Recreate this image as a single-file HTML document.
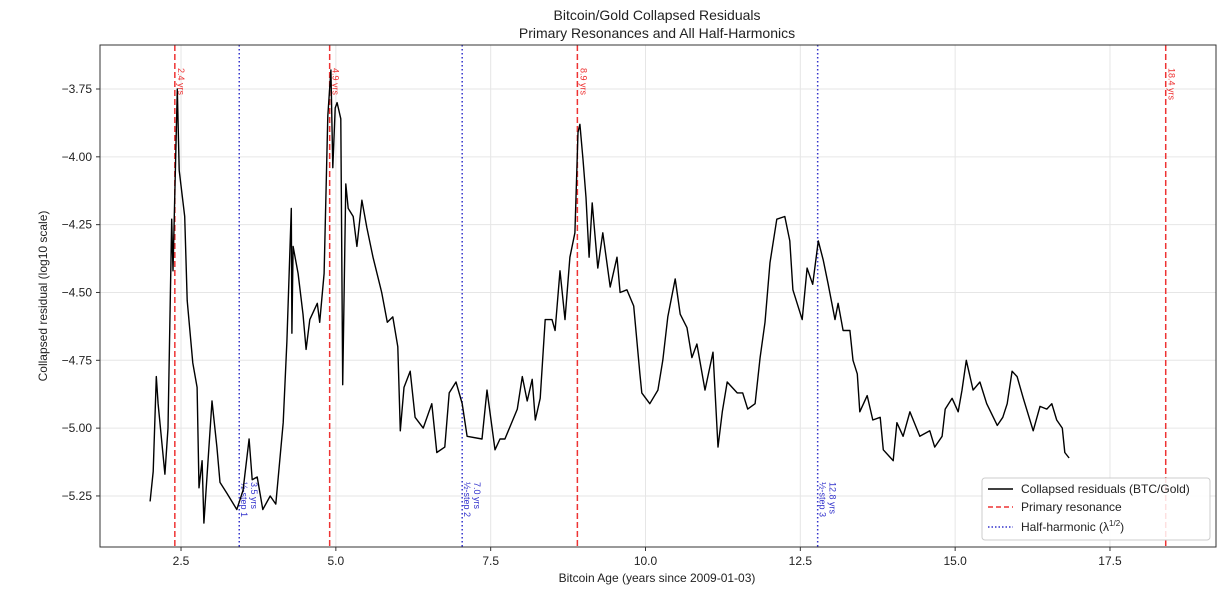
<!DOCTYPE html>
<html><head><meta charset="utf-8"><style>
body{margin:0;background:#fff;}
svg{display:block;font-family:"Liberation Sans","DejaVu Sans",sans-serif;}
</style></head><body>
<svg id="chart" width="1230" height="592" viewBox="0 0 1230 592">
<text x="657" y="20" text-anchor="middle" font-size="14" fill="#222">Bitcoin/Gold Collapsed Residuals</text>
<text x="657" y="38" text-anchor="middle" font-size="14" fill="#222">Primary Resonances and All Half-Harmonics</text>
<g id="grid"></g>
<g id="vlines"></g>
<path id="series" fill="none" stroke="#000" stroke-width="1.4" stroke-linejoin="round"/>
<rect x="100" y="45" width="1116" height="502" fill="none" stroke="#333" stroke-width="1"/>
<g id="ticks"></g>
<text x="657" y="582" text-anchor="middle" font-size="12" fill="#222">Bitcoin Age (years since 2009-01-03)</text>
<text transform="translate(47,296) rotate(-90)" text-anchor="middle" font-size="12" fill="#222">Collapsed residual (log10 scale)</text>
<g>
<rect x="982" y="478" width="228" height="62" rx="3" fill="#fff" fill-opacity="0.85" stroke="#ccc"/>
<line x1="988" y1="489" x2="1013" y2="489" stroke="#000" stroke-width="1.4"/>
<text x="1021" y="493" font-size="12" fill="#222">Collapsed residuals (BTC/Gold)</text>
<line x1="988" y1="507" x2="1013" y2="507" stroke="#e33" stroke-width="1.4" stroke-dasharray="5,3"/>
<text x="1021" y="511" font-size="12" fill="#222">Primary resonance</text>
<line x1="988" y1="527" x2="1013" y2="527" stroke="#33c" stroke-width="1.4" stroke-dasharray="1.5,2"/>
<text x="1021" y="531" font-size="12" fill="#222">Half-harmonic (λ<tspan font-size="8" dy="-5">1/2</tspan><tspan dy="5">)</tspan></text>
</g>
</svg>
<script>
const xs=[2.00,2.05,2.10,2.13,2.24,2.29,2.35,2.37,2.44,2.47,2.56,2.60,2.69,2.76,2.79,2.84,2.87,3.00,3.08,3.13,3.24,3.40,3.50,3.60,3.65,3.73,3.82,3.94,4.03,4.15,4.21,4.28,4.29,4.31,4.39,4.47,4.52,4.58,4.70,4.74,4.81,4.87,4.92,4.95,4.99,5.02,5.08,5.11,5.16,5.20,5.28,5.34,5.42,5.50,5.60,5.74,5.83,5.92,6.00,6.04,6.10,6.20,6.28,6.41,6.55,6.63,6.76,6.83,6.94,7.04,7.12,7.36,7.44,7.57,7.65,7.73,7.93,8.01,8.09,8.17,8.22,8.30,8.38,8.49,8.54,8.62,8.70,8.78,8.86,8.91,8.94,8.99,9.04,9.09,9.14,9.23,9.31,9.43,9.54,9.59,9.70,9.81,9.91,9.94,10.07,10.20,10.28,10.36,10.48,10.56,10.67,10.75,10.83,10.96,11.09,11.17,11.24,11.32,11.48,11.57,11.65,11.77,11.85,11.93,12.01,12.12,12.25,12.33,12.38,12.53,12.61,12.70,12.79,12.87,12.95,13.06,13.11,13.19,13.30,13.35,13.42,13.46,13.58,13.67,13.79,13.84,14.00,14.06,14.16,14.27,14.43,14.59,14.67,14.79,14.84,14.95,15.05,15.11,15.18,15.29,15.40,15.51,15.68,15.77,15.84,15.92,16.00,16.10,16.26,16.37,16.48,16.56,16.64,16.73,16.77,16.84];
const ys=[-5.27,-5.16,-4.81,-4.91,-5.17,-5.00,-4.23,-4.42,-3.75,-4.05,-4.22,-4.53,-4.76,-4.85,-5.22,-5.12,-5.35,-4.90,-5.07,-5.20,-5.24,-5.30,-5.23,-5.04,-5.19,-5.18,-5.30,-5.25,-5.28,-4.98,-4.68,-4.19,-4.65,-4.33,-4.43,-4.58,-4.71,-4.60,-4.54,-4.61,-4.43,-3.85,-3.68,-4.04,-3.82,-3.80,-3.86,-4.84,-4.10,-4.19,-4.22,-4.33,-4.16,-4.26,-4.37,-4.50,-4.61,-4.59,-4.70,-5.01,-4.85,-4.79,-4.96,-5.00,-4.91,-5.09,-5.07,-4.87,-4.83,-4.91,-5.03,-5.04,-4.86,-5.08,-5.04,-5.04,-4.93,-4.81,-4.90,-4.82,-4.97,-4.89,-4.60,-4.60,-4.64,-4.42,-4.60,-4.37,-4.28,-3.91,-3.88,-4.01,-4.15,-4.37,-4.17,-4.41,-4.28,-4.48,-4.37,-4.50,-4.49,-4.55,-4.80,-4.87,-4.91,-4.86,-4.75,-4.59,-4.45,-4.58,-4.63,-4.74,-4.69,-4.86,-4.72,-5.07,-4.94,-4.83,-4.87,-4.87,-4.93,-4.91,-4.74,-4.61,-4.39,-4.23,-4.22,-4.31,-4.49,-4.60,-4.41,-4.47,-4.31,-4.38,-4.47,-4.60,-4.54,-4.64,-4.64,-4.75,-4.80,-4.94,-4.88,-4.97,-4.96,-5.08,-5.12,-4.98,-5.03,-4.94,-5.03,-5.01,-5.07,-5.03,-4.93,-4.89,-4.94,-4.86,-4.75,-4.86,-4.83,-4.91,-4.99,-4.96,-4.91,-4.79,-4.81,-4.89,-5.01,-4.92,-4.93,-4.91,-4.97,-5.00,-5.09,-5.11];
const xTicks=[2.5,5.0,7.5,10.0,12.5,15.0,17.5];
const xTickLabels=["2.5","5.0","7.5","10.0","12.5","15.0","17.5"];
const yTicks=[-3.75,-4.00,-4.25,-4.50,-4.75,-5.00,-5.25];
const yTickLabels=["−3.75","−4.00","−4.25","−4.50","−4.75","−5.00","−5.25"];
const primaryYears=[2.4,4.9,8.9,18.4];
const primaryLabels=["2.4 yrs","4.9 yrs","8.9 yrs","18.4 yrs"];
const halfYears=[3.44,7.04,12.78];
const halfLabels=["½-step 1","½-step 2","½-step 3"];
const halfYearLabels=["3.5 yrs","7.0 yrs","12.8 yrs"];

const NS="http://www.w3.org/2000/svg";
const X=v=>26.2+v*61.93;
const Y=v=>89+(-3.75-v)*271.3;
function mk(tag,attrs,parent,text){const e=document.createElementNS(NS,tag);for(const k in attrs)e.setAttribute(k,attrs[k]);if(text!==undefined)e.textContent=text;parent.appendChild(e);return e;}
const grid=document.getElementById('grid'),ticks=document.getElementById('ticks'),vl=document.getElementById('vlines');
xTicks.forEach((t,i)=>{
  const g=mk('line',{x1:X(t),x2:X(t),y1:45,y2:547,stroke:'#e6e6e6','stroke-width':1},grid);
  
  
  const tk=mk('line',{x1:X(t),x2:X(t),y1:547,y2:551,stroke:'#333'},ticks);
  
  
  const tl=mk('text',{x:X(t),y:565,'text-anchor':'middle','font-size':12,fill:'#222'},ticks,xTickLabels[i]);
  
  
});
yTicks.forEach((t,i)=>{
  const g=mk('line',{x1:100,x2:1216,y1:Y(t),y2:Y(t),stroke:'#e6e6e6','stroke-width':1},grid);
  
  
  const tk=mk('line',{x1:96,x2:100,y1:Y(t),y2:Y(t),stroke:'#333'},ticks);
  
  
  const tl=mk('text',{x:92,y:Y(t)+4,'text-anchor':'end','font-size':12,fill:'#222'},ticks,yTickLabels[i]);
  
  
});
primaryYears.forEach((v,i)=>{
  const l=mk('line',{x1:X(v),x2:X(v),y1:45,y2:547,stroke:'#e33','stroke-width':1.5,'stroke-dasharray':'6,3'},vl);
  
  
  const t=mk('text',{transform:`translate(${X(v)+3},68) rotate(90)`,'font-size':9,fill:'#e33'},vl,primaryLabels[i]);
  
  
});
halfYears.forEach((v,i)=>{
  const l=mk('line',{x1:X(v),x2:X(v),y1:45,y2:547,stroke:'#33c','stroke-width':1.5,'stroke-dasharray':'1.5,2.5'},vl);
  
  
  const t=mk('text',{transform:`translate(${X(v)+2},482) rotate(90)`,'font-size':9,fill:'#33c'},vl);
  
  
  mk('tspan',{x:0,y:0},t,halfLabels[i]);
  mk('tspan',{x:0,y:-10},t,halfYearLabels[i]);
});
document.getElementById('series').setAttribute('d',xs.map((v,i)=>(i?'L':'M')+X(v).toFixed(1)+','+Y(ys[i]).toFixed(1)).join(''));
</script>
</body></html>
